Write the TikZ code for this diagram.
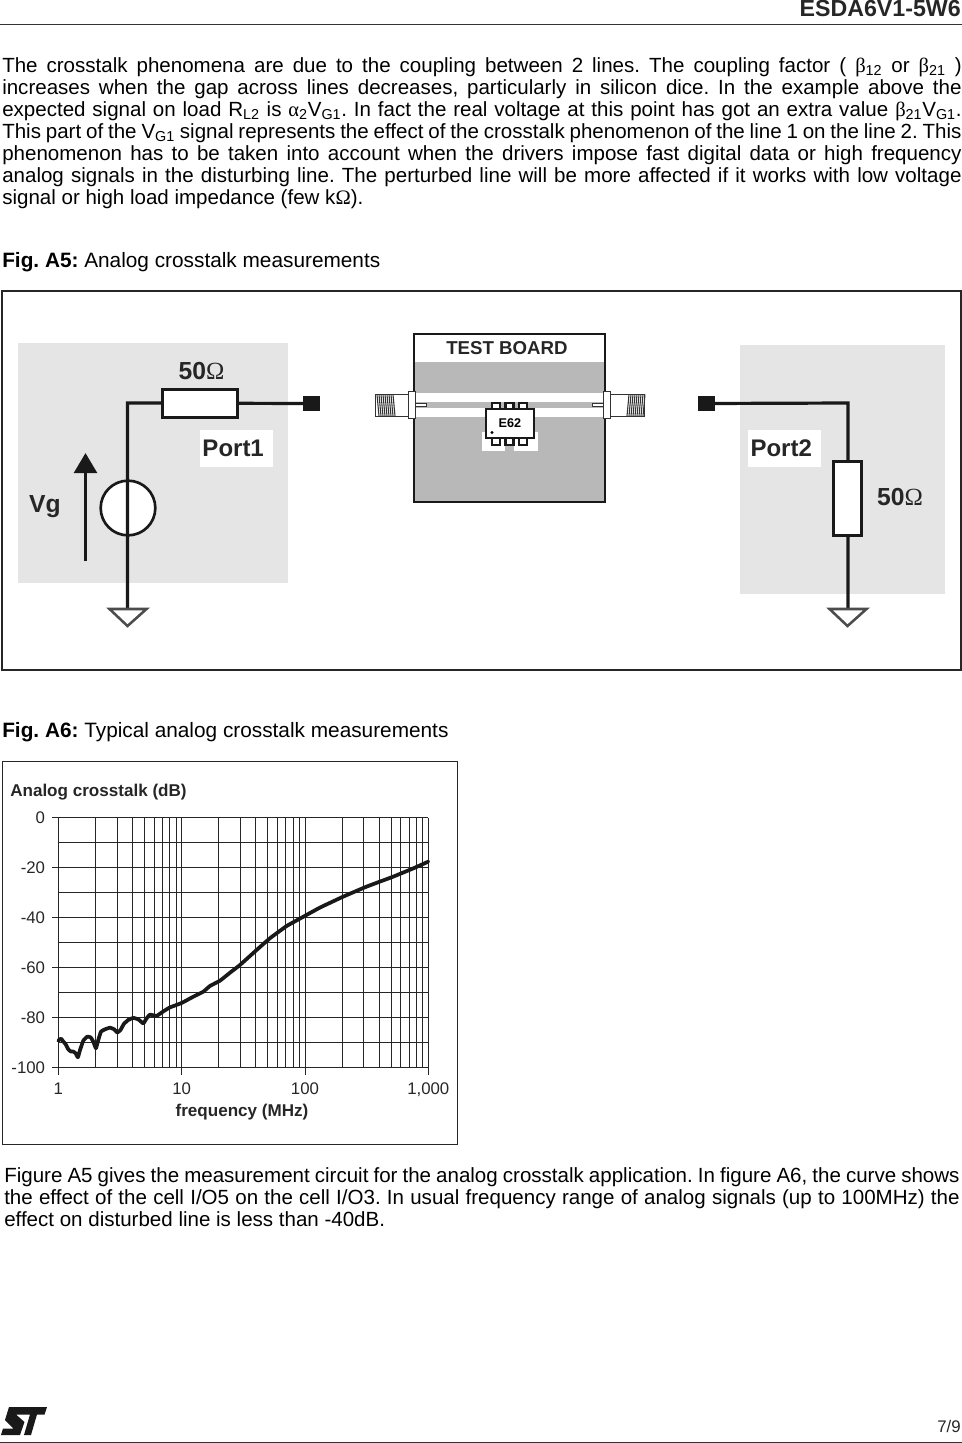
\documentclass[tikz,border=0pt]{standalone}
\usepackage{fontspec}
\setmainfont{Liberation Sans}
\newfontfamily\symfont{Liberation Serif}
\usetikzlibrary{arrows.meta}
\newcommand{\gk}[1]{{\mdseries\symfont #1}}
\newcommand{\bodyline}[1]{\hbox to 719.5pt{\frenchspacing\spaceskip=.278em plus 1fil minus 1fil #1}}
\newcommand{\lastline}[1]{\hbox{\frenchspacing #1}}
\newcommand{\gndsym}[2]{\draw[gndtri] (#1-18,#2) -- (#1+19,#2) -- (#1,#2+17) -- cycle;}
\tikzset{
 bodytxt/.style={anchor=north west, inner sep=0, font=\fontsize{15.4}{16.6}\selectfont},
 figtxt/.style={anchor=west, inner sep=0, font=\fontsize{15.6}{18}\selectfont},
 graybg/.style={fill=black!10, draw=none},
 wire/.style={line width=2.4pt, draw=black!90},
 rbox/.style={draw=black!90, fill=white, line width=2.2pt, inner sep=0},
 termsq/.style={fill=black!90, minimum width=12.5pt, minimum height=11.5pt, inner sep=0},
 gndtri/.style={draw=black!70, line width=1.9pt, fill=white, line join=miter},
 cirlabel/.style={inner sep=0, font=\fontsize{18.5}{20}\bfseries\selectfont, text=black!85},
 portlabel/.style={fill=white, minimum width=55pt, minimum height=27.5pt, inner sep=0, font=\fontsize{18}{20}\bfseries\selectfont, text=black!85},
 tick/.style={inner sep=0, font=\fontsize{12.6}{14}\selectfont, text=black!85},
 boldlab/.style={inner sep=0, font=\fontsize{12.8}{14}\bfseries\selectfont, text=black!85},
 gridln/.style={line width=.7pt, draw=black!85},
 connbody/.style={draw=black!80, fill=white, line width=.5pt},
 pinbox/.style={draw=black!90, fill=white, line width=1.6pt},
}
\begin{document}
\begin{tikzpicture}[x=.75pt, y=-.75pt, >=Stealth]
 \useasboundingbox (0,0) rectangle (962,1443);

 \node[anchor=north east, inner sep=0, font=\fontsize{17.4}{20}\bfseries\selectfont, text=black!85] (header) at (961,0) {ESDA6V1-5W6};
 \draw[line width=.7pt, draw=black!80] (0,24.5) -- (962,24.5);
 \node[bodytxt] (para1) at (2,57) {\vbox{\baselineskip=16.6pt
  \bodyline{The crosstalk phenomena are due to the coupling between 2 lines. The coupling factor ( \gk{β}\textsubscript{12} or \gk{β}\textsubscript{21} )}
  \bodyline{increases when the gap across lines decreases, particularly in silicon dice. In the example above the}
  \bodyline{expected signal on load R\textsubscript{L2} is \gk{α}\textsubscript{2}V\textsubscript{G1}. In fact the real voltage at this point has got an extra value \gk{β}\textsubscript{21}V\textsubscript{G1}.}
  \bodyline{This part of the V\textsubscript{G1} signal represents the effect of the crosstalk phenomenon of the line 1 on the line 2. This}
  \bodyline{phenomenon has to be taken into account when the drivers impose fast digital data or high frequency}
  \bodyline{analog signals in the disturbing line. The perturbed line will be more affected if it works with low voltage}
  \lastline{signal or high load impedance (few k\gk{Ω}).}}};

 \node[figtxt] (figfive) at (2,262) {\frenchspacing\textbf{Fig. A5:} Analog crosstalk measurements};
 \draw[line width=1.1pt, draw=black!85] (2,291) rectangle (961,670);

 \fill[graybg] (18,343) rectangle (288,583);
 \fill[graybg] (740,345) rectangle (945,594);

 \coordinate (cornerL) at (127.5,403);
 \coordinate (cornerR) at (848,403);
 \coordinate (baseL) at (127.5,609);
 \coordinate (baseR) at (848,609);
 \node[termsq] (padL) at (311.5,403.5) {};
 \node[termsq] (padR) at (706.5,403.5) {};
 \node[rbox, circle, line width=2pt, minimum size=41pt] (srcL) at (128,508) {};
 \draw[wire] (baseL) -- (cornerL) -- (padL);
 \draw[wire] (padR) -- (cornerR) -- (baseR);
 \node[rbox, minimum width=56pt, minimum height=21pt] (resL) at (200,403.5) {};
 \node[rbox, minimum width=21pt, minimum height=55pt] (resR) at (847.5,498.5) {};
 \gndsym{127.5}{609}
 \gndsym{847.5}{609}
 \draw[line width=2.6pt, draw=black!90, fill=black!90, -{Triangle[length=15pt,width=17pt]}] (85.5,561) -- (85.5,453);

 \node[cirlabel] (vg) at (45,507) {Vg};
 \node[cirlabel] (ohmL) at (201.5,371) {50\gk{Ω}};
 \node[cirlabel] (ohmR) at (900,497) {50\gk{Ω}};
 \node[portlabel] (portL) at (236.5,448.5) {Port1\hspace{5pt}\null};
 \node[portlabel] (portR) at (784.5,448.5) {Port2\hspace{5pt}\null};

 \fill[black!28] (414,362) rectangle (605,502);
 \fill[white] (414,393) rectangle (605,417);
 \fill[black!28] (414,402) rectangle (605,408);
 \fill[white] (482,432) rectangle (505,451);
 \fill[white] (514,432) rectangle (538,451);
 \draw[line width=1.5pt, draw=black!90] (413.5,334) rectangle (605,502);
 \node[inner sep=0, font=\fontsize{14}{16}\bfseries\selectfont, text=black!85] (board) at (507,348) {TEST BOARD};

 \foreach \px in {492,505.5,519}
 {
     \draw[pinbox] (\px,403) rectangle (\px+8,409);
     \draw[pinbox] (\px,438) rectangle (\px+8,445);
 }
 \node[draw=black!90, fill=white, line width=1.8pt, minimum width=36pt, minimum height=21.5pt, inner sep=0, font=\fontsize{9.5}{11}\bfseries\selectfont] (chip) at (510,423.5) {E62};
 \fill[black] (492,432.5) circle (1.6);

 \draw[connbody] (375,394) rectangle (408,416.5);
 \draw[connbody] (610,394) rectangle (644,416.5);
 \foreach \hx in {0,2,...,16}
 {
     \draw[line width=.8pt, draw=black!80] (377+\hx,394.5) -- (379+\hx,416);
     \draw[line width=.8pt, draw=black!80] (629+\hx,394.5) -- (627+\hx,416);
 }
 \draw[connbody] (408.5,391) rectangle (415,418.5);
 \draw[connbody] (603.5,391) rectangle (610,418.5);
 \draw[connbody] (415,403) rectangle (426.5,406.5);
 \draw[connbody] (592.5,403) rectangle (603.5,406.5);

 \node[figtxt] (figsix) at (2,732) {\frenchspacing\textbf{Fig. A6:} Typical analog crosstalk measurements};
 \draw[line width=.7pt, draw=black!85] (2,761) rectangle (457.5,1144);
 \node[boldlab, anchor=west] (ylab) at (10,792.5) {Analog crosstalk (dB)};
 \node[boldlab] (xlab) at (242,1112.5) {frequency (MHz)};

 \begin{scope}[shift={(58.3,817.7)}, x=92.5pt, y=1.872pt]
  \foreach \db in {0,-10,...,-100}
  {
      \draw[gridln] (0,\db)--(3,\db);
  }
  \foreach \db in {0,-20,...,-100}
  {
      \draw[gridln] (-.05,\db)--(0,\db);
      \node[tick, anchor=east] at (-.105,\db) {\db};
  }
  \foreach \d in {0,1,2}
  {
      \foreach \m in {2,...,9}
      {
          \draw[gridln] ({\d+log10(\m)},0)--({\d+log10(\m)},-100);
      }
  }
  \draw[gridln] (0,0)--(0,-103);
  \draw[line width=1.2pt, draw=black!85] (1,0)--(1,-103);
  \draw[gridln] (2,0)--(2,-103);
  \draw[line width=1.2pt, draw=black!85] (3,0)--(3,-103);
  \node[tick, anchor=base] at (0,-111) {1};
  \node[tick, anchor=base] at (1,-111) {10};
  \node[tick, anchor=base] at (2,-111) {100};
  \node[tick, anchor=base] at (3,-111) {1,000};
  \draw[line width=2.8pt, draw=black!90, line join=round, line cap=round] plot[smooth, tension=.2] coordinates {
   (0,-89.3)(.022,-88.5)(.041,-89.7)(.059,-90.7)(.081,-92.8)(.103,-93.7)(.122,-93.7)(.141,-94.4)
   (.159,-96)(.176,-93.1)(.203,-89.3)(.235,-87.7)(.262,-88)(.284,-89.7)(.305,-92.4)(.324,-89.1)
   (.346,-85.7)(.378,-84.8)(.419,-84.1)(.454,-84.8)(.478,-86.1)(.505,-85)(.532,-82.6)(.568,-81)
   (.608,-80.2)(.649,-80.8)(.689,-82.4)(.716,-80.4)(.743,-78.9)(.797,-79.4)(.851,-77.6)(.905,-76)
   (.959,-75)(1.005,-74.1)(1.095,-71.7)(1.176,-69.7)(1.23,-67.4)(1.311,-65.3)(1.392,-62.1)
   (1.473,-59)(1.608,-53)(1.716,-48.3)(1.851,-43.4)(1.986,-39.7)(2.122,-36)(2.311,-31.6)
   (2.5,-27.6)(2.716,-23.6)(2.878,-20.3)(3,-17.6)};
 \end{scope}

 \node[bodytxt] (para2) at (4,1167) {\vbox{\baselineskip=16.6pt
  \hbox to 716.5pt{\frenchspacing\spaceskip=.278em plus 1fil minus 1fil Figure A5 gives the measurement circuit for the analog crosstalk application. In figure A6, the curve shows}
  \hbox to 716.5pt{\frenchspacing\spaceskip=.278em plus 1fil minus 1fil the effect of the cell I/O5 on the cell I/O3. In usual frequency range of analog signals (up to 100MHz) the}
  \lastline{effect on disturbed line is less than -40dB.}}};

 \fill[black!90] (9,1407) -- (47,1407) -- (44.5,1414.5) -- (37,1414.5) -- (31,1435) -- (24,1435) -- (30,1414.5) -- (16,1414.5) -- (24.5,1422) -- (20,1435) -- (1,1435) -- (3,1428.5) -- (13.5,1428.5) -- (5,1420) -- cycle;
 \node[anchor=east, inner sep=0, font=\fontsize{12.6}{14}\selectfont, text=black!85] (pageno) at (961,1426) {7/9};
 \draw[line width=.7pt, draw=black!80] (0,1442) -- (962,1442);
\end{tikzpicture}
\end{document}
